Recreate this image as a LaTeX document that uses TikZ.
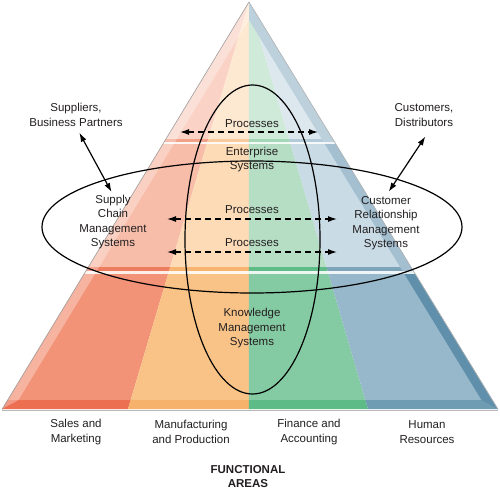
\documentclass[tikz,border=0pt]{standalone}
\usepackage{fontspec}
\setmainfont{Liberation Sans}
\usetikzlibrary{arrows.meta}
% tier 1 (top, very pale)
\definecolor{rA}{HTML}{FAD3C6}\definecolor{oA}{HTML}{FDE8D1}\definecolor{gA}{HTML}{CFEAD9}\definecolor{bA}{HTML}{DCE7EE}
\definecolor{rAs}{HTML}{F3A089}\definecolor{oAs}{HTML}{F9CB9C}\definecolor{gAs}{HTML}{A3D7B8}\definecolor{bAs}{HTML}{B3CAD8}
% tier 2 (pale)
\definecolor{rB}{HTML}{F7BDA9}\definecolor{oB}{HTML}{FCDBB6}\definecolor{gB}{HTML}{B5DEC5}\definecolor{bB}{HTML}{C9DBE5}
\definecolor{rBs}{HTML}{EE7D60}\definecolor{oBs}{HTML}{F7B470}\definecolor{gBs}{HTML}{5EBC88}\definecolor{bBs}{HTML}{7EA4BA}
% tier 3 (saturated)
\definecolor{rC}{HTML}{F29378}\definecolor{oC}{HTML}{F9C387}\definecolor{gC}{HTML}{84CAA2}\definecolor{bC}{HTML}{97B8CB}
\definecolor{rCs}{HTML}{EC6F52}\definecolor{oCs}{HTML}{F6B16B}\definecolor{gCs}{HTML}{5DBB87}\definecolor{bCs}{HTML}{6F9BB3}
\definecolor{bevA}{HTML}{BDD1DD}\definecolor{bevB}{HTML}{A3BFD0}\definecolor{bevC}{HTML}{5F8FAA}
\definecolor{txt}{HTML}{231F20}
\newcommand\pyrband[6]{%
  \begin{scope}
    \clip (0,#1) rectangle (500,#2);
    \fill[#3] (249,2) -- (2,409) -- (128,409) -- cycle;
    \fill[#4] (249,2) -- (128,409) -- (249.6,409) -- cycle;
    \fill[#5] (249,2) -- (248.8,409) -- (368,409) -- cycle;
    \fill[#6] (249,2) -- (368,409) -- (498,409) -- cycle;
  \end{scope}}
\newcommand\pyrbevel[3]{%
  \begin{scope}
    \clip (0,#1) rectangle (500,#2);
    \fill[white,opacity=.3] (249,2) -- (2,409) -- (18.5,400) -- (249,20) -- cycle;
    \fill[#3] (249,2) -- (498,409) -- (481.5,400) -- (249,20) -- cycle;
  \end{scope}}
\tikzset{
  lbl/.style={align=center, text=txt, inner sep=0pt, font=\fontsize{11.5}{14.5}\selectfont},
  ringline/.style={line width=1.2pt, draw=black},
  dasharrow/.style={line width=1.2pt, dash pattern=on 6pt off 4pt, {Latex[length=9pt,width=6pt]}-{Latex[length=9pt,width=6pt]}},
  dblarrow/.style={line width=1.2pt, {Latex[length=9pt,width=6pt]}-{Latex[length=9pt,width=6pt]}}
}
\begin{document}
\begin{tikzpicture}[x=1pt,y=-1pt]
\useasboundingbox (0,0) rectangle (500,492);
\fill[white] (0,0) rectangle (500,492);
% pyramid tiers
\pyrband{0}{139}{rA}{oA}{gA}{bA}
\pyrband{139}{142}{rAs}{oAs}{gAs}{bAs}
\pyrband{142}{267}{rB}{oB}{gB}{bB}
\pyrband{267}{271}{rBs}{oBs}{gBs}{bBs}
\pyrband{271}{400}{rC}{oC}{gC}{bC}
\pyrband{400}{409.5}{rCs}{oCs}{gCs}{bCs}
\pyrbevel{0}{142}{bevA}
\pyrbevel{142}{271}{bevB}
\pyrbevel{271}{409.5}{bevC}
% white gaps between tiers
\begin{scope}
  \clip (249,2) -- (2,409) -- (498,409) -- cycle;
  \fill[white,opacity=.85] (0,142) rectangle (500,144);
  \fill[white,opacity=.85] (0,271) rectangle (500,274);
\end{scope}
\draw[gray!75, line width=0.6pt] (249,2) -- (2,409.5);
\draw[gray!60, line width=0.6pt] (249,2) -- (498,409.5);
\draw[gray!55, line width=0.8pt] (2,410) -- (498,410);
% ellipses
\draw[ringline] (252,227) ellipse [x radius=210pt, y radius=66pt];
\draw[ringline] (252.5,239.5) ellipse [x radius=67.5pt, y radius=154.5pt];
% labels
\node[lbl] (sup) at (76,115) {Suppliers,\\Business Partners};
\node[lbl] (cust) at (424,115) {Customers,\\Distributors};
\node[lbl] (scm) at (113,222) {Supply\\Chain\\Management\\Systems};
\node[lbl] (crm) at (386,223) {Customer\\Relationship\\Management\\Systems};
\node[lbl] (proc1) at (252,124) {Processes};
\node[lbl] (ent) at (252,159.5) {Enterprise\\Systems};
\node[lbl] (proc2) at (252,210) {Processes};
\node[lbl] (proc3) at (252,243) {Processes};
\node[lbl] (kms) at (252,328.5) {Knowledge\\Management\\Systems};
\node[lbl] (sm) at (76,432) {Sales and\\Marketing};
\node[lbl] (mp) at (191,432) {Manufacturing\\and Production};
\node[lbl] (fa) at (309,432) {Finance and\\Accounting};
\node[lbl] (hr) at (427,432) {Human\\Resources};
\node[lbl, font=\fontsize{11.5}{14.5}\selectfont\bfseries] (fun) at (248,476.5) {FUNCTIONAL\\AREAS};
% process arrows
\coordinate (p1l) at (180,132); \coordinate (p1r) at (318,132);
\coordinate (p2l) at (167,219); \coordinate (p2r) at (337,219);
\coordinate (p3l) at (167,252); \coordinate (p3r) at (337,252);
\draw[dasharrow] (p1l) -- (p1r);
\draw[dasharrow] (p2l) -- (p2r);
\draw[dasharrow] (p3l) -- (p3r);
% partner arrows
\draw[dblarrow, shorten <=7pt, shorten >=3pt] (sup.south) -- (scm.north);
\draw[dblarrow, shorten <=12pt, shorten >=5pt] ([xshift=8pt]cust.south) -- (crm.north);
\end{tikzpicture}
\end{document}
